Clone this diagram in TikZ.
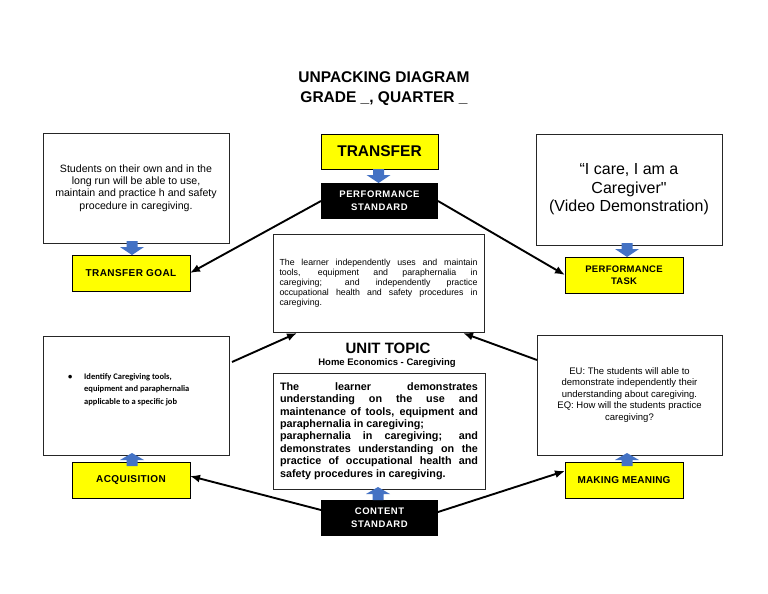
\documentclass[tikz,border=0pt]{standalone}
\usepackage{fontspec}
\setmainfont{Liberation Sans}
\newfontfamily\calib{Carlito}
\usetikzlibrary{arrows.meta,calc}
\definecolor{ylw}{HTML}{FFFF00}
\definecolor{barr}{HTML}{4472C4}
\tikzset{
  bdown/.pic={\fill[barr] (-5.5,-14) -- (5.5,-14) -- (5.5,-8) -- (12,-8) -- (0,0) -- (-12,-8) -- (-5.5,-8) -- cycle;},
  bup/.pic={\fill[barr] (-5.5,13) -- (5.5,13) -- (5.5,7) -- (12,7) -- (0,0) -- (-12,7) -- (-5.5,7) -- cycle;}
}
\begin{document}
\begin{tikzpicture}[x=1pt,y=-1pt,
  plainbox/.style={draw=black!85,line width=0.8pt,fill=white,inner sep=0pt,outer sep=0pt},
  ybox/.style={draw=black,line width=0.8pt,fill=ylw,minimum width=118pt,minimum height=36pt,inner sep=0pt,outer sep=0pt,align=center},
  kbox/.style={fill=black,text=white,minimum width=117pt,minimum height=36pt,inner sep=0pt,outer sep=0pt,align=center,font=\fontsize{9.5}{13}\selectfont\bfseries\addfontfeature{LetterSpace=6}},
  conn/.style={line width=1.9pt,-{Latex[length=10pt,width=8pt]}}
]
\fill[white] (0,0) rectangle (768,594);
\useasboundingbox (0,0) rectangle (768,594);

\node[font=\fontsize{15.5}{20}\selectfont\bfseries,align=center] (title) at (384,89) {UNPACKING DIAGRAM\\GRADE \_, QUARTER \_};

\node[plainbox,minimum width=186pt,minimum height=110pt,align=center,font=\fontsize{10.6}{12.3}\selectfont] (goalbox) at (136,188) {Students on their own and in the\\long run will be able to use,\\maintain and practice h and safety\\procedure in caregiving.};
\node[ybox,font=\fontsize{10}{12}\selectfont\bfseries\addfontfeature{LetterSpace=4}] (tgoal) at (131,273) {TRANSFER GOAL};

\node[ybox,minimum width=117pt,minimum height=35pt,font=\fontsize{15.5}{18}\selectfont\bfseries] (transfer) at (379.5,151.5) {TRANSFER};
\node[kbox] (pstd) at (379.5,201) {PERFORMANCE\\STANDARD};
\node[plainbox,minimum width=211pt,minimum height=98pt,text width=198pt,align=justify,font=\fontsize{8.8}{9.9}\selectfont] (pstext) at (378.5,283) {The learner independently uses and maintain\linebreak tools, equipment and paraphernalia in\linebreak caregiving; and independently practice\linebreak occupational health and safety procedures in\linebreak caregiving.};

\node[plainbox,minimum width=186pt,minimum height=111pt,align=center,font=\fontsize{16}{18.5}\selectfont] (taskbox) at (629,189.5) {“I care, I am a\\Caregiver\textquotedbl\\(Video Demonstration)};
\node[ybox,font=\fontsize{9.5}{12}\selectfont\bfseries\addfontfeature{LetterSpace=3}] (ptask) at (624,275) {PERFORMANCE\\TASK};

\node[plainbox,minimum width=186pt,minimum height=119pt] (acqbox) at (136,395.5) {};
\node[anchor=west,inner sep=0pt,font=\calib\fontsize{8.5}{12.5}\selectfont\bfseries] (acqtext) at (68,389) {\begin{tabular}{@{}p{16pt}@{}l@{}}•&Identify Caregiving tools,\\&equipment and paraphernalia\\&applicable to a specific job\end{tabular}};
\node[ybox,font=\fontsize{10}{12}\selectfont\bfseries\addfontfeature{LetterSpace=4}] (acq) at (131,480) {ACQUISITION};

\node[font=\fontsize{15}{18}\selectfont\bfseries] (unit) at (388,348) {UNIT TOPIC};
\node[font=\fontsize{9.5}{11}\selectfont\bfseries] (subj) at (387,363) {Home Economics - Caregiving};
\node[plainbox,minimum width=212pt,minimum height=116pt,text width=198pt,align=justify,font=\fontsize{10.8}{12.4}\selectfont\bfseries] (cstext) at (379,431) {The learner demonstrates\linebreak understanding on the use and\linebreak maintenance of tools, equipment and\linebreak paraphernalia in caregiving;\\ paraphernalia in caregiving; and\linebreak demonstrates understanding on the\linebreak practice of occupational health and\linebreak safety procedures in caregiving.};
\node[kbox] (cstd) at (379.5,518) {CONTENT\\STANDARD};

\node[plainbox,minimum width=185pt,minimum height=120pt,align=center,font=\fontsize{9.5}{11.5}\selectfont] (mmbox) at (629.5,395) {EU: The students will able to\\demonstrate independently their\\understanding about caregiving.\\EQ: How will the students practice\\caregiving?};
\node[ybox,font=\fontsize{10}{12}\selectfont\bfseries\addfontfeature{LetterSpace=2}] (mm) at (624,480) {MAKING MEANING};

% blue block arrows
\pic at ($(tgoal.north)+(1,0)$) {bdown};
\pic at ($(pstd.north)+(-1,0)$) {bdown};
\pic at ($(ptask.north)+(3,0)$) {bdown};
\pic at ($(acqbox.south)+(-4,-2)$) {bup};
\pic at ($(cstext.south)+(-1,-2)$) {bup};
\pic at ($(mmbox.south)+(-2.5,-2)$) {bup};

% connectors
\draw[conn] (pstd.west) -- (tgoal.east);
\draw[conn] (pstd.east) -- (ptask.west);
\draw[conn] ([yshift=8pt]cstd.west) -- ([yshift=4pt]acq.east);
\draw[conn] ([yshift=6pt]cstd.east) -- ([yshift=9pt]mm.west);
\draw[conn] ($(acqbox.north east)+(3,26)$) -- ($(pstext.south west)+(24,1)$);
\draw[conn] ($(mmbox.north west)+(0,25)$) -- ($(pstext.south east)+(-21,1)$);
\end{tikzpicture}
\end{document}
